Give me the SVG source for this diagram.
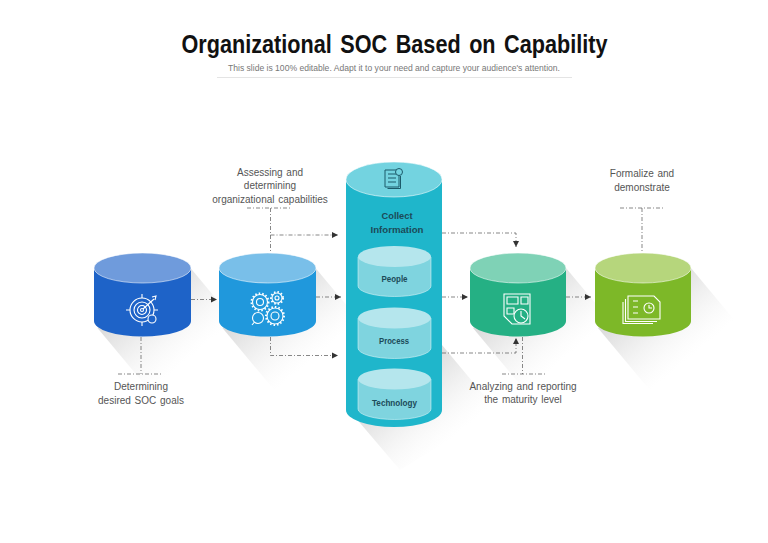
<svg xmlns="http://www.w3.org/2000/svg" width="768" height="543" viewBox="0 0 768 543">
<style>
text{font-family:"Liberation Sans",Arial,sans-serif}
.t{font-size:10px;fill:#555;text-anchor:middle;word-spacing:1px}
.b{font-size:9.500px;font-weight:700;fill:#1c4a58;text-anchor:middle}
.c{fill:none;stroke:#555;stroke-width:.7;stroke-dasharray:4 2 1 2}
.ic{fill:none;stroke:#fff;stroke-width:1.100}
.top{stroke:#fff;stroke-opacity:.7;stroke-width:.8}
</style>
<defs>
<linearGradient id="sg" gradientUnits="userSpaceOnUse" x1="0" y1="0" x2="50" y2="60"><stop offset="0" stop-color="#c8c8c8" stop-opacity=".65"/><stop offset=".35" stop-color="#dcdcdc" stop-opacity=".55"/><stop offset="1" stop-color="#f0f0f0" stop-opacity="0"/></linearGradient>
<linearGradient id="sb" gradientUnits="userSpaceOnUse" x1="394" y1="385" x2="444" y2="445"><stop offset="0" stop-color="#c8c8c8" stop-opacity=".65"/><stop offset=".35" stop-color="#dcdcdc" stop-opacity=".55"/><stop offset="1" stop-color="#f0f0f0" stop-opacity="0"/></linearGradient>
<path id="s" d="M48-27L103 39L10 99L-45 33Z" fill="url(#sg)"/>
<marker id="a" markerUnits="userSpaceOnUse" markerWidth="7" markerHeight="7" refX="6" refY="3.500" orient="auto"><path d="M0 .5L6 3.500L0 6.500Z" fill="#333"/></marker>
</defs>
<rect width="768" height="543" fill="#fff"/>
<g id="title">
<text x="394.500" y="53" font-size="26" font-weight="700" fill="#111" text-anchor="middle" word-spacing="3" textLength="426" lengthAdjust="spacingAndGlyphs">Organizational SOC Based on Capability</text>
<text x="394" y="71" font-size="8.800" fill="#777" text-anchor="middle" textLength="332" lengthAdjust="spacingAndGlyphs">This slide is 100% editable. Adapt it to your need and capture your audience's attention.</text>
<path d="M217 77.500H572" stroke="#ddd" stroke-width=".8"/>
</g>
<g id="shadows">
<use href="#s" transform="translate(142.500 295)"/>
<use href="#s" transform="translate(267.500 295)"/>
<path d="M442 345L497 411L400 470L349 410Z" fill="url(#sb)"/>
<use href="#s" transform="translate(518 295)"/>
<use href="#s" transform="translate(643 295)"/>
</g>
<g id="connectors">
<path class="c" d="M191 299.500H217" marker-end="url(#a)"/>
<path class="c" d="M316 297H341" marker-end="url(#a)"/>
<path class="c" d="M270.500 208V252"/>
<path class="c" d="M247 208H292"/>
<path class="c" d="M270.500 235H338" marker-end="url(#a)"/>
<path class="c" d="M270.500 337V355.500H338" marker-end="url(#a)"/>
<path class="c" d="M141 337V374"/>
<path class="c" d="M118 374H163"/>
<path class="c" d="M442 233H516V247" marker-end="url(#a)"/>
<path class="c" d="M442 297H468" marker-end="url(#a)"/>
<path class="c" d="M442 353H516V338" marker-end="url(#a)"/>
<path class="c" d="M566 297H591" marker-end="url(#a)"/>
<path class="c" d="M522.500 337V374"/>
<path class="c" d="M502 374H545"/>
<path class="c" d="M642 208V252"/>
<path class="c" d="M620 208H665"/>
</g>
<g id="node-goals">
<path d="M94 268V321A48.500 15.500 0 0 0 191 321V268Z" fill="#1e63c8"/>
<ellipse class="top" cx="142.500" cy="268" rx="48.500" ry="15" fill="#6f9bdc"/>
<g class="ic" transform="translate(142 310)">
<circle r="12"/><circle r="8"/><circle r="4.500"/><circle r="1.500"/>
<path d="M-16 0H-12M12 0H16M0-16V-12M0 12V16M1 -1L12 -11M10 -13L14-14L13-10"/><circle cx="10" cy="9" r="4" fill="#1e63c8"/>
</g>
<text class="t" x="141" y="390">Determining</text>
<text class="t" x="141" y="404">desired SOC goals</text>
</g>
<g id="node-assess">
<path d="M219 268V321A48.500 15.500 0 0 0 316 321V268Z" fill="#2098dc"/>
<ellipse class="top" cx="267.500" cy="268" rx="48.500" ry="15" fill="#79bfe9"/>
<g class="ic">
<circle cx="260" cy="302" r="7.500"/><circle cx="260" cy="302" r="8.500" stroke-width="2" stroke-dasharray="1.500 2"/><circle cx="260" cy="302" r="3.500"/>
<circle cx="277" cy="298" r="5"/><circle cx="277" cy="298" r="6" stroke-width="2" stroke-dasharray="1.500 2"/><circle cx="277" cy="298" r="2"/>
<circle cx="275" cy="316" r="8"/><circle cx="275" cy="316" r="9" stroke-width="2" stroke-dasharray="1.500 2"/><circle cx="275" cy="316" r="4"/>
<circle cx="258" cy="318" r="5.500"/><path d="M254.500 322L252 325"/>
</g>
<text class="t" x="270" y="176">Assessing and</text>
<text class="t" x="270" y="189">determining</text>
<text class="t" x="270" y="203">organizational capabilities</text>
</g>
<g id="node-collect">
<path d="M346 180V410A48 17 0 0 0 442 410V180Z" fill="#1fb6cb"/>
<ellipse class="top" cx="394" cy="179.500" rx="48" ry="17.500" fill="#73d3e0"/>
<g fill="none" stroke="#1c5a6a" stroke-width="1">
<path d="M385 170H399V187H385ZM387.500 188.500H400.500V176M388 174H396M388 178H396M388 182H396"/>
<circle cx="399" cy="172" r="3.500" fill="#73d3e0"/>
</g>
<text class="b" x="397" y="219" textLength="31" lengthAdjust="spacingAndGlyphs">Collect</text>
<text class="b" x="397" y="233" textLength="53" lengthAdjust="spacingAndGlyphs">Information</text>
<g id="node-people">
<path d="M358 257V286A36.500 10.500 0 0 0 431 286V257Z" fill="#7fd4df" stroke="#d5f1f5" stroke-width=".6"/>
<ellipse cx="394.500" cy="256.500" rx="36.500" ry="10.500" fill="#b5e6ed"/>
<text class="b" x="394.500" y="282" textLength="26" lengthAdjust="spacingAndGlyphs">People</text>
</g>
<g id="node-process">
<path d="M358 318V348A36.500 10.500 0 0 0 431 348V318Z" fill="#7fd4df" stroke="#d5f1f5" stroke-width=".6"/>
<ellipse cx="394.500" cy="318" rx="36.500" ry="10.500" fill="#b5e6ed"/>
<text class="b" x="394" y="344" textLength="30" lengthAdjust="spacingAndGlyphs">Process</text>
</g>
<g id="node-technology">
<path d="M358 379V409A36.500 10.500 0 0 0 431 409V379Z" fill="#7fd4df" stroke="#d5f1f5" stroke-width=".6"/>
<ellipse cx="394.500" cy="379" rx="36.500" ry="10.500" fill="#b5e6ed"/>
<text class="b" x="394.500" y="406" textLength="45" lengthAdjust="spacingAndGlyphs">Technology</text>
</g>
</g>
<g id="node-analyze">
<path d="M470 268V321A48 15.500 0 0 0 566 321V268Z" fill="#25b084"/>
<ellipse class="top" cx="518" cy="268" rx="48" ry="15" fill="#7fd2b6"/>
<g class="ic">
<path d="M504 294H530V324H512L504 316Z"/><path d="M507 297H518V304H507ZM521 297H528V304H521ZM507 308H514V314H507Z"/><circle cx="521" cy="316" r="7" fill="#25b084"/><path d="M521 311V316L525 319"/>
</g>
<text class="t" x="523" y="390">Analyzing and reporting</text>
<text class="t" x="523" y="403">the maturity level</text>
</g>
<g id="node-formalize">
<path d="M595 268V321A48 15.500 0 0 0 691 321V268Z" fill="#7db828"/>
<ellipse class="top" cx="643" cy="268" rx="48" ry="15" fill="#b6d67c"/>
<g class="ic">
<path d="M628 296H654L660 302V319H628ZM625.500 299V321.500H657M623 302V323.500H653"/><circle cx="649" cy="308" r="5"/><path d="M649 305V308H652M633 301H638M633 307H638M633 313H638"/>
</g>
<text class="t" x="642" y="177">Formalize and</text>
<text class="t" x="642" y="191">demonstrate</text>
</g>
</svg>
